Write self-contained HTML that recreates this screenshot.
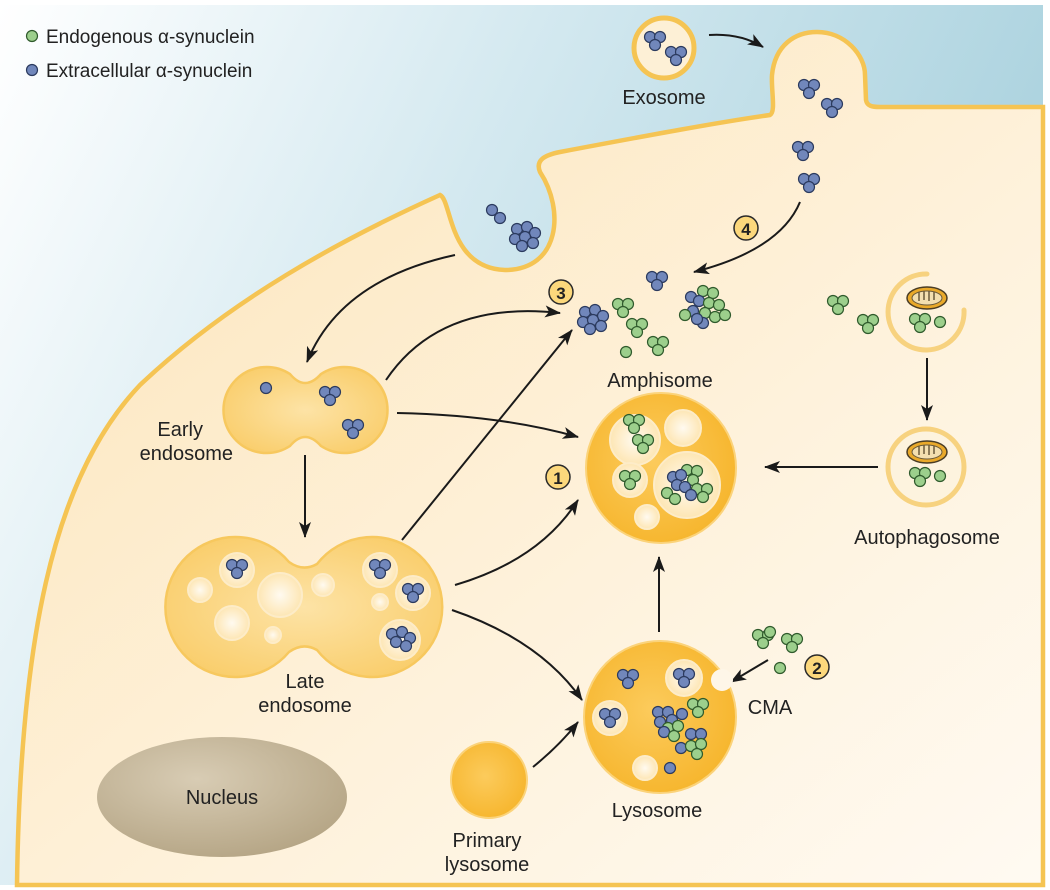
<!DOCTYPE html>
<html><head><meta charset="utf-8"><style>
html,body{margin:0;padding:0;background:#fff;}
svg{display:block;}
text{font-family:"Liberation Sans",sans-serif;fill:#222;}
</style></head><body>
<svg width="1050" height="890" viewBox="0 0 1050 890" xmlns="http://www.w3.org/2000/svg">
<defs>
<linearGradient id="bg" x1="0" y1="0" x2="1" y2="0.4">
<stop offset="0" stop-color="#ffffff"/><stop offset="0.45" stop-color="#d4e9f0"/><stop offset="1" stop-color="#a5cfdc"/></linearGradient>
<linearGradient id="cell" x1="0" y1="0" x2="1" y2="1">
<stop offset="0" stop-color="#fce4b8"/><stop offset="0.6" stop-color="#fef2dc"/><stop offset="1" stop-color="#fffaf2"/></linearGradient>
<radialGradient id="lys" cx="0.45" cy="0.45" r="0.6">
<stop offset="0" stop-color="#fccb5c"/><stop offset="1" stop-color="#f6b52c"/></radialGradient>
<radialGradient id="endo" cx="0.5" cy="0.5" r="0.6">
<stop offset="0" stop-color="#fde3a6"/><stop offset="1" stop-color="#f9cd6a"/></radialGradient>
<radialGradient id="ves" cx="0.5" cy="0.5" r="0.5">
<stop offset="0" stop-color="#fffaf0"/><stop offset="1" stop-color="#fde6b4"/></radialGradient>
<radialGradient id="nuc" cx="0.4" cy="0.35" r="0.7">
<stop offset="0" stop-color="#d8ccb4"/><stop offset="1" stop-color="#b5a585"/></radialGradient>
<marker id="ah" viewBox="0 0 16 12" refX="15" refY="6" markerWidth="16" markerHeight="12" markerUnits="userSpaceOnUse" orient="auto">
<path d="M0,0 L16,6 L0,12 L4,6 Z" fill="#1a1a1a"/></marker>
<g id="b1"><circle r="5.5" fill="#7187bb" stroke="#2b3a5e" stroke-width="1.2"/></g>
<g id="g1"><circle r="5.5" fill="#9ccf8c" stroke="#2f5a2c" stroke-width="1.2"/></g>
<g id="bt"><use href="#b1" x="-5" y="-3"/><use href="#b1" x="5" y="-3"/><use href="#b1" x="0" y="5"/></g>
<g id="gt"><use href="#g1" x="-5" y="-3"/><use href="#g1" x="5" y="-3"/><use href="#g1" x="0" y="5"/></g>
<g id="bc"><use href="#b1" x="-8" y="-6"/><use href="#b1" x="2" y="-8"/><use href="#b1" x="10" y="-2"/><use href="#b1" x="-10" y="4"/><use href="#b1" x="0" y="2"/><use href="#b1" x="8" y="8"/><use href="#b1" x="-3" y="11"/></g>
<g id="mito"><ellipse rx="20" ry="11" fill="#e9a92a" stroke="#4a3d25" stroke-width="1.5"/><ellipse rx="15" ry="7" fill="#f3dfb0" stroke="#6a5a3a" stroke-width="1"/><path d="M-8,-6 V3 M-3,-7 V2 M2,-7 V3 M7,-6 V2" stroke="#6a5a3a" stroke-width="1.5"/></g>
</defs>

<rect x="0" y="5" width="1043" height="880" fill="url(#bg)"/>
<path d="M17,885 C20,650 50,480 140,385 C230,300 340,240 440,195 C452,200 448,268 505,270 C560,270 565,210 540,172 C535,160 545,155 560,152 C650,135 720,122 770,115 C776,112 771,90 772,75 C775,45 795,32 817,32 C845,32 865,55 865,75 L866,100 C867,106 872,107 880,107 L1043,107 L1043,885 Z" fill="url(#cell)" stroke="#f5c453" stroke-width="4.5"/>

<use href="#g1" x="32" y="36"/><text x="46" y="43" font-size="19">Endogenous α-synuclein</text>
<use href="#b1" x="32" y="70"/><text x="46" y="77" font-size="19">Extracellular α-synuclein</text>

<circle cx="664" cy="48" r="30" fill="#fdf0d6" stroke="#f5c453" stroke-width="5"/>
<use href="#bt" x="655" y="40"/><use href="#bt" x="676" y="55"/>
<text x="664" y="104" font-size="20" text-anchor="middle">Exosome</text>
<path d="M709,35 Q740,33 763,47" fill="none" stroke="#1a1a1a" stroke-width="2" marker-end="url(#ah)"/>

<use href="#bt" x="809" y="88"/><use href="#bt" x="832" y="107"/><use href="#bt" x="803" y="150"/><use href="#bt" x="809" y="182"/>
<use href="#b1" x="492" y="210"/><use href="#b1" x="500" y="218"/><use href="#bc" x="525" y="235"/>

<g fill="none" stroke="#1a1a1a" stroke-width="2" marker-end="url(#ah)">
<path d="M800,202 Q780,250 694,272"/>
<path d="M455,255 Q340,280 307,362"/>
<path d="M386,380 Q440,300 560,313"/>
<path d="M397,413 Q500,415 578,437"/>
<path d="M305,455 L305,537"/>
<path d="M402,540 L572,330"/>
<path d="M455,585 Q540,560 578,500"/>
<path d="M452,610 Q540,640 582,700"/>
<path d="M533,767 Q560,745 578,722"/>
<path d="M659,632 L659,557"/>
<path d="M878,467 L765,467"/>
<path d="M927,358 L927,420"/>
<path d="M768,660 L731,682"/>
</g>

<use href="#bt" x="657" y="280"/><use href="#bc" x="593" y="318"/>
<use href="#gt" x="623" y="307"/><use href="#gt" x="637" y="327"/><use href="#gt" x="658" y="345"/><use href="#g1" x="626" y="352"/>
<g transform="translate(701,305)"><use href="#g1" x="2" y="-14"/><use href="#g1" x="12" y="-12"/><use href="#b1" x="-10" y="-8"/><use href="#b1" x="-2" y="-4"/><use href="#g1" x="8" y="-2"/><use href="#g1" x="18" y="0"/><use href="#b1" x="-8" y="6"/><use href="#g1" x="-16" y="10"/><use href="#g1" x="4" y="8"/><use href="#g1" x="14" y="12"/><use href="#b1" x="2" y="18"/><use href="#g1" x="24" y="10"/><use href="#b1" x="-4" y="14"/></g>
<text x="660" y="387" font-size="20" text-anchor="middle">Amphisome</text>

<circle cx="661" cy="468" r="75" fill="url(#lys)" stroke="#fbd37a" stroke-width="2"/>
<circle cx="635" cy="440" r="25" fill="url(#ves)" stroke="#fdecc8" stroke-width="2"/>
<circle cx="683" cy="428" r="18" fill="url(#ves)" stroke="#fdecc8" stroke-width="2"/>
<circle cx="630" cy="480" r="17" fill="url(#ves)" stroke="#fdecc8" stroke-width="2"/>
<circle cx="687" cy="485" r="33" fill="url(#ves)" stroke="#fdecc8" stroke-width="2"/>
<circle cx="647" cy="517" r="12" fill="url(#ves)" stroke="#fdecc8" stroke-width="2"/>
<use href="#gt" x="634" y="423"/><use href="#gt" x="643" y="443"/><use href="#gt" x="630" y="479"/>
<g transform="translate(687,485)"><use href="#g1" x="0" y="-15"/><use href="#g1" x="10" y="-14"/><use href="#b1" x="-14" y="-8"/><use href="#b1" x="-6" y="-10"/><use href="#g1" x="6" y="-5"/><use href="#b1" x="-10" y="0"/><use href="#b1" x="-2" y="2"/><use href="#g1" x="10" y="4"/><use href="#g1" x="20" y="4"/><use href="#g1" x="-20" y="8"/><use href="#b1" x="4" y="10"/><use href="#g1" x="-12" y="14"/><use href="#g1" x="16" y="12"/></g>
<circle cx="558" cy="477" r="12" fill="#fcd87c" stroke="#2a2a2a" stroke-width="1.5"/><text x="558" y="484" font-size="17" text-anchor="middle" font-weight="bold">1</text>
<circle cx="561" cy="292" r="12" fill="#fcd87c" stroke="#2a2a2a" stroke-width="1.5"/><text x="561" y="299" font-size="17" text-anchor="middle" font-weight="bold">3</text>
<circle cx="746" cy="228" r="12" fill="#fcd87c" stroke="#2a2a2a" stroke-width="1.5"/><text x="746" y="235" font-size="17" text-anchor="middle" font-weight="bold">4</text>
<circle cx="817" cy="667" r="12" fill="#fcd87c" stroke="#2a2a2a" stroke-width="1.5"/><text x="817" y="674" font-size="17" text-anchor="middle" font-weight="bold">2</text>

<use href="#gt" x="838" y="304"/><use href="#gt" x="868" y="323"/>
<path d="M927,274 A38,38 0 1 0 964,310" fill="none" stroke="#f7d27f" stroke-width="5" stroke-linecap="round"/>
<use href="#mito" x="927" y="298"/><use href="#gt" x="920" y="322"/><use href="#g1" x="940" y="322"/>
<circle cx="926" cy="467" r="38" fill="#fdf3de" stroke="#f7d27f" stroke-width="5"/>
<use href="#mito" x="927" y="452"/><use href="#gt" x="920" y="476"/><use href="#g1" x="940" y="476"/>
<text x="927" y="544" font-size="20" text-anchor="middle">Autophagosome</text>

<path d="M290,374 Q305,392 321,374 A43,43 0 1 1 321,446 Q305,428 290,446 A43,43 0 1 1 290,374 Z" fill="url(#endo)" stroke="#f7c85e" stroke-width="2.5"/>
<use href="#b1" x="266" y="388"/><use href="#bt" x="330" y="395"/><use href="#bt" x="353" y="428"/>
<text x="203" y="436" font-size="20" text-anchor="end">Early</text>
<text x="233" y="460" font-size="20" text-anchor="end">endosome</text>

<path d="M289,562 Q303,572 317,564 A70,70 0 1 1 317,650 Q303,642 289,652 A70,70 0 1 1 289,562 Z" fill="url(#endo)" stroke="#f7c85e" stroke-width="2.5"/>
<g fill="url(#ves)" stroke="#fdecc8" stroke-width="2">
<circle cx="237" cy="570" r="17"/><circle cx="200" cy="590" r="12"/><circle cx="280" cy="595" r="22"/><circle cx="323" cy="585" r="11"/><circle cx="232" cy="623" r="17"/><circle cx="273" cy="635" r="8"/><circle cx="380" cy="570" r="17"/><circle cx="413" cy="593" r="17"/><circle cx="380" cy="602" r="8"/><circle cx="400" cy="640" r="20"/></g>
<use href="#bt" x="237" y="568"/><use href="#bt" x="380" y="568"/><use href="#bt" x="413" y="592"/>
<g transform="translate(400,638)"><use href="#b1" x="-8" y="-4"/><use href="#b1" x="2" y="-6"/><use href="#b1" x="10" y="0"/><use href="#b1" x="-4" y="4"/><use href="#b1" x="6" y="8"/></g>
<text x="305" y="688" font-size="20" text-anchor="middle">Late</text>
<text x="305" y="712" font-size="20" text-anchor="middle">endosome</text>

<circle cx="660" cy="717" r="76" fill="url(#lys)" stroke="#fbd37a" stroke-width="2"/>
<circle cx="722" cy="680" r="11" fill="#fef6e8"/>
<g fill="url(#ves)" stroke="#fdecc8" stroke-width="2"><circle cx="684" cy="678" r="18"/><circle cx="610" cy="718" r="17"/><circle cx="645" cy="768" r="12"/></g>
<use href="#bt" x="628" y="678"/><use href="#bt" x="684" y="677"/><use href="#bt" x="610" y="717"/><use href="#gt" x="698" y="707"/>
<g transform="translate(668,720)"><use href="#b1" x="-10" y="-8"/><use href="#b1" x="0" y="-8"/><use href="#b1" x="14" y="-6"/><use href="#b1" x="-8" y="2"/><use href="#b1" x="4" y="0"/><use href="#g1" x="0" y="8"/><use href="#g1" x="10" y="6"/><use href="#b1" x="-4" y="12"/><use href="#g1" x="6" y="16"/></g>
<g transform="translate(693,742)"><use href="#b1" x="-2" y="-8"/><use href="#b1" x="8" y="-8"/><use href="#b1" x="-12" y="6"/><use href="#g1" x="-2" y="4"/><use href="#g1" x="8" y="2"/><use href="#g1" x="4" y="12"/></g>
<use href="#b1" x="670" y="768"/>
<text x="657" y="817" font-size="20" text-anchor="middle">Lysosome</text>
<use href="#gt" x="763" y="638"/><use href="#g1" x="770" y="632"/><use href="#gt" x="792" y="642"/><use href="#g1" x="780" y="668"/>
<text x="770" y="714" font-size="20" text-anchor="middle">CMA</text>

<circle cx="489" cy="780" r="38" fill="url(#lys)" stroke="#fbd37a" stroke-width="2"/>
<text x="487" y="847" font-size="20" text-anchor="middle">Primary</text>
<text x="487" y="871" font-size="20" text-anchor="middle">lysosome</text>

<ellipse cx="222" cy="797" rx="125" ry="60" fill="url(#nuc)"/>
<text x="222" y="804" font-size="20" text-anchor="middle">Nucleus</text>
</svg>
</body></html>
